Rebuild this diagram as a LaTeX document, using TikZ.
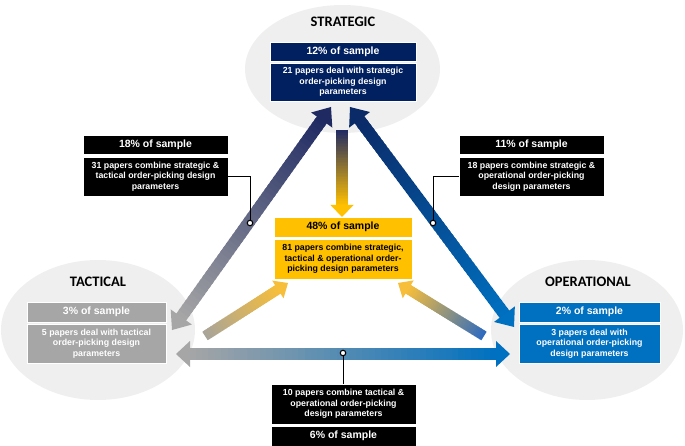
\documentclass[tikz,border=0pt]{standalone}
\usepackage{fontspec}
\setmainfont{Liberation Sans}
\newfontfamily\calibfont{Carlito}
\usetikzlibrary{calc}
\definecolor{cNavy}{HTML}{002060}
\definecolor{cArrNavy}{HTML}{1F2A63}
\definecolor{cArrNavyB}{HTML}{0B2A68}
\definecolor{cBlue}{HTML}{0070C0}
\definecolor{cGray}{HTML}{A6A6A6}
\definecolor{cGold}{HTML}{FFC000}
\definecolor{cGoldA}{HTML}{F7BE3A}
\definecolor{cEll}{HTML}{EFEFEF}
\definecolor{cTailGray}{HTML}{A8A49B}
\definecolor{cTailBlue}{HTML}{2E6BC0}

\newcommand{\gradshaft}[5]{%
  \foreach \k in {0,...,47}{%
    \pgfmathsetmacro{\pa}{\k/48}%
    \pgfmathsetmacro{\pb}{min((\k+1.5)/48,1)}%
    \pgfmathtruncatemacro{\mx}{round(100-100*(\k+0.5)/48)}%
    \draw[line width=#5pt,#3!\mx!#4] ($(#1)!\pa!(#2)$) -- ($(#1)!\pb!(#2)$);%
  }%
}
\newcommand{\arrhead}[4]{%
  \fill[#3] (#2) -- ($(#1)!#4pt!90:(#2)$) -- ($(#1)!#4pt!-90:(#2)$) -- cycle;}
\newcommand{\singlearrow}[7]{%
  \pgfmathsetmacro{\shl}{#6-0.8}%
  \coordinate (gHB) at ($(#2)!#6pt!(#1)$);
  \coordinate (gSB) at ($(#2)!\shl pt!(#1)$);
  \gradshaft{#1}{gSB}{#3}{#4}{#5}
  \arrhead{gHB}{#2}{#4}{#7}}
\newcommand{\doublearrow}[7]{%
  \pgfmathsetmacro{\shl}{#6-0.8}%
  \coordinate (gHA) at ($(#1)!#6pt!(#2)$);
  \coordinate (gHB) at ($(#2)!#6pt!(#1)$);
  \coordinate (gSA) at ($(#1)!\shl pt!(#2)$);
  \coordinate (gSB) at ($(#2)!\shl pt!(#1)$);
  \gradshaft{gSA}{gSB}{#3}{#4}{#5}
  \arrhead{gHA}{#1}{#3}{#7}
  \arrhead{gHB}{#2}{#4}{#7}}

\tikzset{
  hdr/.style={minimum height=19pt, inner sep=0pt, font=\fontsize{10.5}{12}\selectfont\bfseries, text=white, draw=white, line width=0.6pt},
  bdy/.style={inner sep=0pt, align=center, font=\fontsize{8.8}{10.5}\selectfont\bfseries, text=white, draw=white, line width=0.6pt},
  ttl/.style={font=\calibfont\fontsize{14.5}{16}\selectfont\bfseries, inner sep=0pt},
  dotnode/.style={circle, draw=black, fill=white, line width=1.1pt, minimum size=5.5pt, inner sep=0pt},
  callout/.style={draw=black, line width=0.9pt}
}

\begin{document}
\begin{tikzpicture}[x=1pt,y=-1pt]
\useasboundingbox (0,0) rectangle (685,446);
% background ellipses
\fill[cEll] (342.5,69) ellipse [x radius=97.5pt, y radius=64pt];
\fill[cEll] (98,330) ellipse [x radius=97pt, y radius=70pt];
\fill[cEll] (587,330) ellipse [x radius=96pt, y radius=70pt];

% arrow end points
\coordinate (tacUp) at (172,330);
\coordinate (strL) at (331,107);
\coordinate (strR) at (350,107);
\coordinate (opUp) at (514,327);
\coordinate (tacLow) at (176,354);
\coordinate (opLow) at (510,354);
\coordinate (strDown) at (342,130);
\coordinate (midTop) at (342,217);
\coordinate (tacTail) at (205,336);
\coordinate (midL) at (288,283);
\coordinate (opTail) at (484,336);
\coordinate (midR) at (398,283);

\doublearrow{tacUp}{strL}{cGray}{cArrNavy}{12}{16}{13}
\doublearrow{strR}{opUp}{cArrNavyB}{cBlue}{12}{16}{13}
\doublearrow{tacLow}{opLow}{cGray}{cBlue}{12}{14}{13}
\singlearrow{strDown}{midTop}{cArrNavy}{cGold}{12}{12}{11.5}
\singlearrow{tacTail}{midL}{cTailGray}{cGoldA}{10}{12}{10.5}
\singlearrow{opTail}{midR}{cTailBlue}{cGoldA}{10}{12}{10.5}

% titles
\node[ttl] (tS) at (343,22) {STRATEGIC};
\node[ttl] (tT) at (98,282) {TACTICAL};
\node[ttl] (tO) at (588,282) {OPERATIONAL};

% strategic
\node[hdr, fill=cNavy, minimum width=146pt] (hS) at (343,51.5) {12\% of sample};
\node[bdy, fill=cNavy, minimum width=146pt, minimum height=38pt] (bS) at (343,82) {21 papers deal with strategic\\order-picking design\\parameters};
% 18%
\node[hdr, fill=black, minimum width=145pt] (h18) at (155.5,144.5) {18\% of sample};
\node[bdy, fill=black, minimum width=145pt, minimum height=39pt] (b18) at (155.5,176.5) {31 papers combine strategic \&\\tactical order-picking design\\parameters};
% 11%
\node[hdr, fill=black, minimum width=145pt] (h11) at (531.5,144.5) {11\% of sample};
\node[bdy, fill=black, minimum width=145pt, minimum height=39pt] (b11) at (531.5,176.5) {18 papers combine strategic \&\\operational order-picking\\design parameters};
% 48%
\node[hdr, fill=cGold, text=black, minimum width=138pt, minimum height=20pt] (h48) at (343,227) {48\% of sample};
\node[bdy, fill=cGold, text=black, minimum width=138pt, minimum height=40pt] (b48) at (343,259) {81 papers combine strategic,\\tactical \& operational order-\\picking design parameters};
% tactical
\node[hdr, fill=cGray, minimum width=139pt, minimum height=20pt] (hT) at (96.5,312) {3\% of sample};
\node[bdy, fill=cGray, minimum width=139pt, minimum height=39pt] (bT) at (96.5,343.5) {5 papers deal with tactical\\order-picking design\\parameters};
% operational
\node[hdr, fill=cBlue, minimum width=141pt, minimum height=20pt] (hO) at (589.5,312) {2\% of sample};
\node[bdy, fill=cBlue, minimum width=141pt, minimum height=39pt] (bO) at (589.5,343.5) {3 papers deal with\\operational order-picking\\design parameters};
% bottom
\node[bdy, fill=black, minimum width=145pt, minimum height=40pt] (b6) at (343.5,404) {10 papers combine tactical \&\\operational order-picking\\design parameters};
\node[hdr, fill=black, minimum width=145pt, minimum height=20pt] (h6) at (343.5,436) {6\% of sample};

% callouts
\node[dotnode] (d18) at (250,223) {};
\node[dotnode] (d11) at (433,223) {};
\node[dotnode] (d6) at (343,353) {};
\draw[callout] (b18.east) -- (d18 |- b18.east) -- (d18);
\draw[callout] (b11.west) -- (d11 |- b11.west) -- (d11);
\draw[callout] (d6) -- (d6 |- b6.north);
\end{tikzpicture}
\end{document}
